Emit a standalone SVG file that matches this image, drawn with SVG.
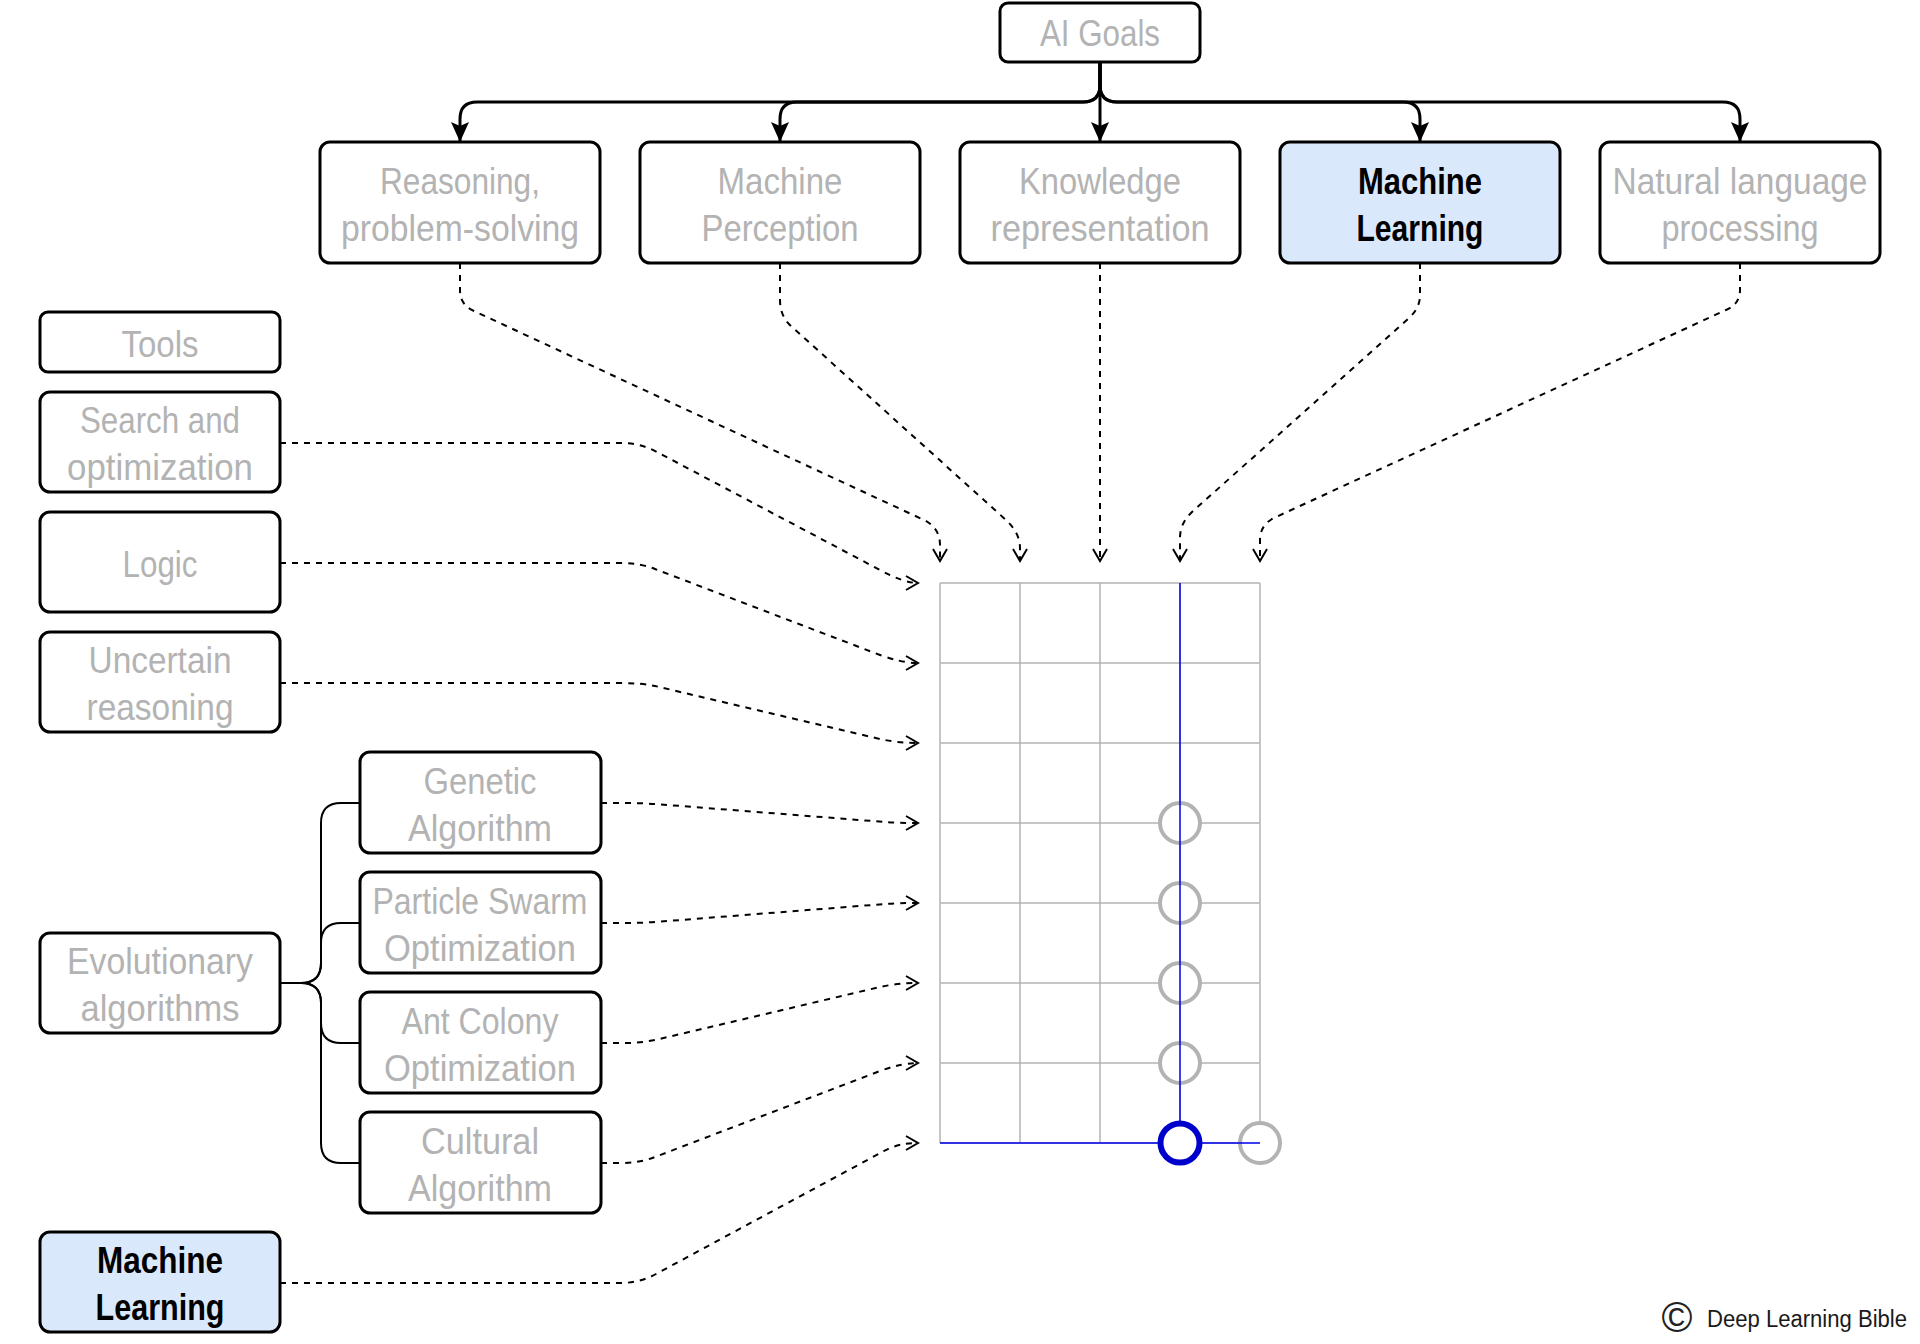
<svg xmlns="http://www.w3.org/2000/svg" width="1920" height="1344" viewBox="0 0 1920 1344">
<style>
  .box { fill: #ffffff; stroke: #000000; stroke-width: 3; }
  .hl { fill: #dae8fc; stroke: #000000; stroke-width: 3; }
  .t { font-family: "Liberation Sans", Arial, sans-serif; font-size: 37px; fill: #b3b3b3; text-anchor: middle; }
  .tb { font-family: "Liberation Sans", Arial, sans-serif; font-size: 37px; font-weight: bold; fill: #000000; text-anchor: middle; }
  .solid { fill: none; stroke: #000000; stroke-width: 3; }
  .tree { fill: none; stroke: #000000; stroke-width: 2; }
  .dash { fill: none; stroke: #000000; stroke-width: 2; stroke-dasharray: 6 6; }
  .grid { fill: none; stroke: #b3b3b3; stroke-width: 1.5; }
  .gc { fill: #ffffff; stroke: #b3b3b3; stroke-width: 4; }
  .blue { fill: none; stroke: #0000ee; stroke-width: 1.5; }
  .bc { fill: #ffffff; stroke: #0000cc; stroke-width: 6; }
</style>
<defs>
  <marker id="filled" markerUnits="userSpaceOnUse" viewBox="0 0 20 20" refX="20" refY="10" markerWidth="20" markerHeight="20" orient="auto">
    <path d="M0,1 L20,10 L0,19 L4,10 Z" fill="#000000" stroke="none"/>
  </marker>
  <marker id="open" markerUnits="userSpaceOnUse" viewBox="-2 -2 16 18" refX="12" refY="7" markerWidth="16" markerHeight="18" orient="auto">
    <path d="M0,0 L12,7 L0,14" fill="none" stroke="#000000" stroke-width="2" stroke-dasharray="none"/>
  </marker>
</defs>

<g id="matrix">
  <path class="grid" d="M940,583 H1260 M940,663 H1260 M940,743 H1260 M940,823 H1260 M940,903 H1260 M940,983 H1260 M940,1063 H1260 M940,1143 H1260"/>
  <path class="grid" d="M940,583 V1143 M1020,583 V1143 M1100,583 V1143 M1180,583 V1143 M1260,583 V1143"/>
  <circle class="gc" cx="1180" cy="823" r="20"/>
  <circle class="gc" cx="1180" cy="903" r="20"/>
  <circle class="gc" cx="1180" cy="983" r="20"/>
  <circle class="gc" cx="1180" cy="1063" r="20"/>
  <circle class="gc" cx="1260" cy="1143" r="20"/>
  <path class="blue" d="M1180,583 V1143 M940,1143 H1260"/>
  <circle class="bc" cx="1180" cy="1143" r="19.5"/>
</g>

<g id="connectors">
  <path class="solid" marker-end="url(#filled)" d="M1100,62 V85 Q1100,102 1083,102 H477 Q460,102 460,119 V142"/>
  <path class="solid" marker-end="url(#filled)" d="M1100,62 V85 Q1100,102 1083,102 H797 Q780,102 780,119 V142"/>
  <path class="solid" marker-end="url(#filled)" d="M1100,62 V142"/>
  <path class="solid" marker-end="url(#filled)" d="M1100,62 V85 Q1100,102 1117,102 H1403 Q1420,102 1420,119 V142"/>
  <path class="solid" marker-end="url(#filled)" d="M1100,62 V85 Q1100,102 1117,102 H1723 Q1740,102 1740,119 V142"/>

  <path class="dash" marker-end="url(#open)" d="M460,263 V290 Q460,305 474,311 L924,520 Q940,528 940,545 V561"/>
  <path class="dash" marker-end="url(#open)" d="M780,263 V300 Q780,316 791,326 L1006,520 Q1020,533 1020,548 V561"/>
  <path class="dash" marker-end="url(#open)" d="M1100,263 V561"/>
  <path class="dash" marker-end="url(#open)" d="M1420,263 V295 Q1420,308 1409,318 L1192,512 Q1180,523 1180,538 V561"/>
  <path class="dash" marker-end="url(#open)" d="M1740,263 V290 Q1740,304 1726,310 L1276,517 Q1260,524 1260,540 V561"/>

  <path class="dash" marker-end="url(#open)" d="M280,443 H622 Q640,443 657,452 L880,570 Q904,583 918,583"/>
  <path class="dash" marker-end="url(#open)" d="M280,563 H620 Q640,563 655,569 L880,655 Q902,663 918,663"/>
  <path class="dash" marker-end="url(#open)" d="M280,683 H620 Q640,683 655,686 L880,739 Q898,743 918,743"/>
  <path class="dash" marker-end="url(#open)" d="M601,803 H625 Q640,803 655,804 L885,822 Q900,823 918,823"/>
  <path class="dash" marker-end="url(#open)" d="M601,923 H625 Q640,923 655,922 L885,904 Q900,903 918,903"/>
  <path class="dash" marker-end="url(#open)" d="M601,1043 H625 Q640,1043 655,1040 L880,987 Q898,983 918,983"/>
  <path class="dash" marker-end="url(#open)" d="M601,1163 H620 Q640,1163 655,1157 L880,1071 Q902,1063 918,1063"/>
  <path class="dash" marker-end="url(#open)" d="M280,1283 H620 Q640,1283 656,1274 L884,1151 Q898,1143 918,1143"/>

  <path class="tree" d="M280,983 H301 Q321,983 321,963 V823 Q321,803 341,803 H360"/>
  <path class="tree" d="M280,983 H301 Q321,983 321,963 V943 Q321,923 341,923 H360"/>
  <path class="tree" d="M280,983 H301 Q321,983 321,1003 V1023 Q321,1043 341,1043 H360"/>
  <path class="tree" d="M280,983 H301 Q321,983 321,1003 V1143 Q321,1163 341,1163 H360"/>
</g>

<g id="ai-goals">
  <rect class="box" x="1000" y="3" width="200" height="59" rx="8"/>
  <text class="t" x="1100" y="46" textLength="120" lengthAdjust="spacingAndGlyphs">AI Goals</text>
</g>
<g id="reasoning">
  <rect class="box" x="320" y="142" width="280" height="121" rx="10"/>
  <text class="t" x="460" y="194" textLength="160" lengthAdjust="spacingAndGlyphs">Reasoning,</text>
  <text class="t" x="460" y="241" textLength="238" lengthAdjust="spacingAndGlyphs">problem-solving</text>
</g>
<g id="machine-perception">
  <rect class="box" x="640" y="142" width="280" height="121" rx="10"/>
  <text class="t" x="780" y="194" textLength="125" lengthAdjust="spacingAndGlyphs">Machine</text>
  <text class="t" x="780" y="241" textLength="157" lengthAdjust="spacingAndGlyphs">Perception</text>
</g>
<g id="knowledge-representation">
  <rect class="box" x="960" y="142" width="280" height="121" rx="10"/>
  <text class="t" x="1100" y="194" textLength="162" lengthAdjust="spacingAndGlyphs">Knowledge</text>
  <text class="t" x="1100" y="241" textLength="219" lengthAdjust="spacingAndGlyphs">representation</text>
</g>
<g id="machine-learning-goal">
  <rect class="hl" x="1280" y="142" width="280" height="121" rx="10"/>
  <text class="tb" x="1420" y="194" textLength="124" lengthAdjust="spacingAndGlyphs">Machine</text>
  <text class="tb" x="1420" y="241" textLength="127" lengthAdjust="spacingAndGlyphs">Learning</text>
</g>
<g id="nlp">
  <rect class="box" x="1600" y="142" width="280" height="121" rx="10"/>
  <text class="t" x="1740" y="194" textLength="255" lengthAdjust="spacingAndGlyphs">Natural language</text>
  <text class="t" x="1740" y="241" textLength="157" lengthAdjust="spacingAndGlyphs">processing</text>
</g>

<g id="tools">
  <rect class="box" x="40" y="312" width="240" height="60" rx="8"/>
  <text class="t" x="160" y="357" textLength="77" lengthAdjust="spacingAndGlyphs">Tools</text>
</g>
<g id="search">
  <rect class="box" x="40" y="392" width="240" height="100" rx="10"/>
  <text class="t" x="160" y="433" textLength="160" lengthAdjust="spacingAndGlyphs">Search and</text>
  <text class="t" x="160" y="480" textLength="186" lengthAdjust="spacingAndGlyphs">optimization</text>
</g>
<g id="logic">
  <rect class="box" x="40" y="512" width="240" height="100" rx="10"/>
  <text class="t" x="160" y="577" textLength="75" lengthAdjust="spacingAndGlyphs">Logic</text>
</g>
<g id="uncertain">
  <rect class="box" x="40" y="632" width="240" height="100" rx="10"/>
  <text class="t" x="160" y="673" textLength="143" lengthAdjust="spacingAndGlyphs">Uncertain</text>
  <text class="t" x="160" y="720" textLength="147" lengthAdjust="spacingAndGlyphs">reasoning</text>
</g>
<g id="evolutionary">
  <rect class="box" x="40" y="933" width="240" height="100" rx="10"/>
  <text class="t" x="160" y="974" textLength="186" lengthAdjust="spacingAndGlyphs">Evolutionary</text>
  <text class="t" x="160" y="1021" textLength="159" lengthAdjust="spacingAndGlyphs">algorithms</text>
</g>
<g id="genetic">
  <rect class="box" x="360" y="752" width="241" height="101" rx="10"/>
  <text class="t" x="480" y="794" textLength="113" lengthAdjust="spacingAndGlyphs">Genetic</text>
  <text class="t" x="480" y="841" textLength="144" lengthAdjust="spacingAndGlyphs">Algorithm</text>
</g>
<g id="pso">
  <rect class="box" x="360" y="872" width="241" height="101" rx="10"/>
  <text class="t" x="480" y="914" textLength="215" lengthAdjust="spacingAndGlyphs">Particle Swarm</text>
  <text class="t" x="480" y="961" textLength="192" lengthAdjust="spacingAndGlyphs">Optimization</text>
</g>
<g id="aco">
  <rect class="box" x="360" y="992" width="241" height="101" rx="10"/>
  <text class="t" x="480" y="1034" textLength="157" lengthAdjust="spacingAndGlyphs">Ant Colony</text>
  <text class="t" x="480" y="1081" textLength="192" lengthAdjust="spacingAndGlyphs">Optimization</text>
</g>
<g id="cultural">
  <rect class="box" x="360" y="1112" width="241" height="101" rx="10"/>
  <text class="t" x="480" y="1154" textLength="118" lengthAdjust="spacingAndGlyphs">Cultural</text>
  <text class="t" x="480" y="1201" textLength="144" lengthAdjust="spacingAndGlyphs">Algorithm</text>
</g>
<g id="machine-learning-tool">
  <rect class="hl" x="40" y="1232" width="240" height="100" rx="10"/>
  <text class="tb" x="160" y="1273" textLength="126" lengthAdjust="spacingAndGlyphs">Machine</text>
  <text class="tb" x="160" y="1320" textLength="129" lengthAdjust="spacingAndGlyphs">Learning</text>
</g>

<g id="footer">
  <text x="1677" y="1332" font-family="Liberation Sans, sans-serif" font-size="42" fill="#222222" text-anchor="middle">©</text>
  <text x="1707" y="1327" font-family="Liberation Sans, sans-serif" font-size="23" fill="#1a1a1a" textLength="200" lengthAdjust="spacingAndGlyphs">Deep Learning Bible</text>
</g>
</svg>
